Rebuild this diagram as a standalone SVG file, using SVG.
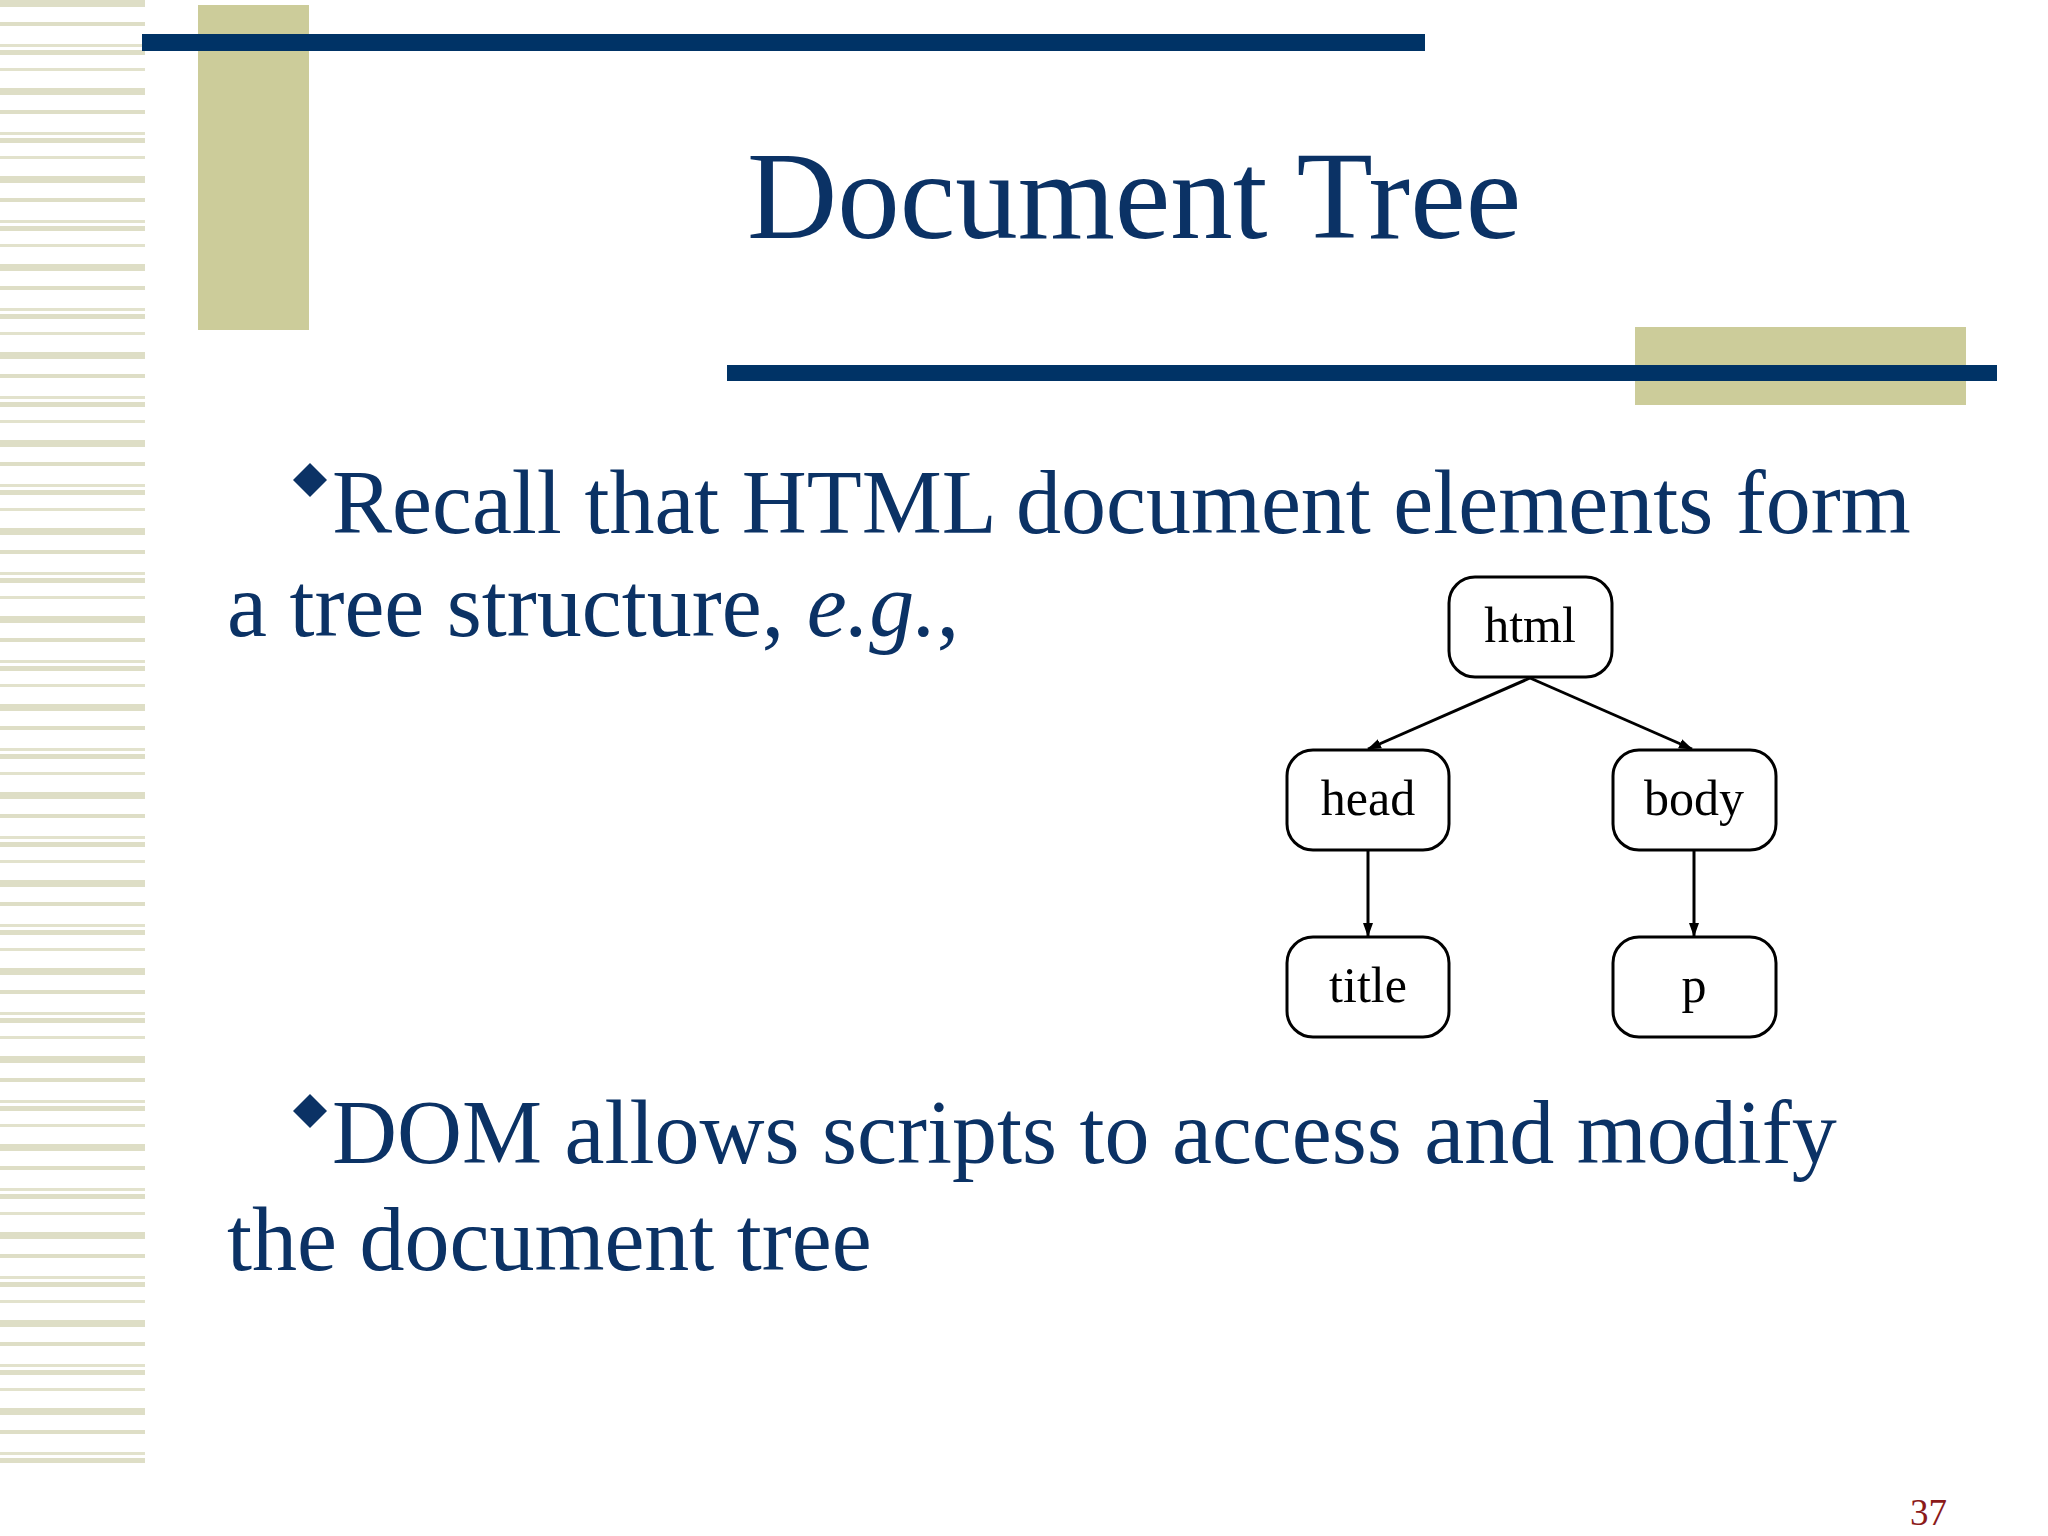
<svg xmlns="http://www.w3.org/2000/svg" width="2048" height="1536" viewBox="0 0 2048 1536">
<defs>
<style>
.t{font-family:"Liberation Serif","Times New Roman",serif;fill:#0b3265}
.n rect{fill:#fff;stroke:#000;stroke-width:3}
.n text{font-family:"Liberation Serif","Times New Roman",serif;font-size:50px;fill:#000;text-anchor:middle}
.e{stroke:#000;stroke-width:3;fill:none;marker-end:url(#ah)}
</style>
<marker id="ah" markerWidth="14" markerHeight="14" refX="13" refY="7" orient="auto" markerUnits="userSpaceOnUse" viewBox="0 0 14 14"><path d="M0,2 L14,7 L0,12 z" fill="#000"/></marker>
<pattern id="st" width="146" height="88" patternUnits="userSpaceOnUse">
<rect x="0" y="0" width="145" height="7" fill="#dedec6"/>
<rect x="0" y="22" width="145" height="4" fill="#dedec6"/>
<rect x="0" y="44" width="145" height="3" fill="#e2e2cc"/>
<rect x="0" y="50" width="145" height="5" fill="#dedec6"/>
<rect x="0" y="68" width="145" height="3" fill="#e2e2cc"/>
</pattern>
</defs>
<rect width="2048" height="1536" fill="#fff"/>
<rect x="0" y="0" width="146" height="1470" fill="url(#st)"/>
<rect x="198" y="5" width="111" height="325" fill="#cccc9a"/>
<rect x="142" y="34" width="1283" height="17" fill="#003366"/>
<rect x="1635" y="327" width="331" height="78" fill="#cccc9a"/>
<rect x="727" y="365" width="1270" height="16" fill="#003366"/>
<text class="t" x="1134" y="238" font-size="125" text-anchor="middle">Document Tree</text>
<path d="M310,463 L327,480 L310,497 L293,480 z" fill="#0b3265"/>
<text class="t" x="332" y="533" font-size="90">Recall that HTML document elements form</text>
<text class="t" x="227" y="636" font-size="90">a tree structure, <tspan font-style="italic">e.g.</tspan>,</text>
<path d="M310,1094 L327,1111 L310,1128 L293,1111 z" fill="#0b3265"/>
<text class="t" x="332" y="1163" font-size="90">DOM allows scripts to access and modify</text>
<text class="t" x="227" y="1270" font-size="90">the document tree</text>
<text x="1947" y="1525" font-family="Liberation Serif,serif" font-size="37" fill="#8b1a1a" text-anchor="end">37</text>
<g id="connectors">
<path class="e" d="M1530,678 L1368,749"/>
<path class="e" d="M1530,678 L1692,749"/>
<path class="e" d="M1368,850 L1368,936"/>
<path class="e" d="M1694,850 L1694,936"/>
</g>
<g id="html" class="n"><rect x="1449" y="577" width="163" height="100" rx="26"/><text x="1530" y="642">html</text></g>
<g id="head" class="n"><rect x="1287" y="750" width="162" height="100" rx="26"/><text x="1368" y="815">head</text></g>
<g id="body" class="n"><rect x="1613" y="750" width="163" height="100" rx="26"/><text x="1694" y="815">body</text></g>
<g id="title" class="n"><rect x="1287" y="937" width="162" height="100" rx="26"/><text x="1368" y="1002">title</text></g>
<g id="p" class="n"><rect x="1613" y="937" width="163" height="100" rx="26"/><text x="1694" y="1002">p</text></g>
</svg>
